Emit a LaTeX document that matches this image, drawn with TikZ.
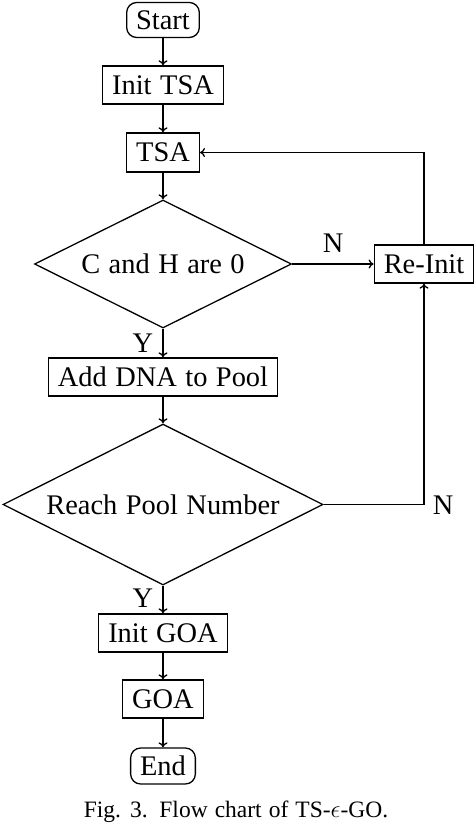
\documentclass[tikz,border=0pt]{standalone}
\usepackage{fontspec}
\setmainfont[WordSpace=1.2]{Liberation Serif}
\usetikzlibrary{shapes.geometric,arrows.meta}
\begin{document}
\begin{tikzpicture}[x=1pt,y=-1pt,
  line width=1.3pt,
  >={To[length=5pt,width=9pt]},
  every node/.style={font=\fontsize{28.4}{34}\selectfont},
  procbox/.style={draw, rectangle, inner xsep=9.5pt, inner ysep=0pt, minimum height=38pt},
  termbox/.style={draw, rectangle, rounded corners=10pt, inner xsep=9.5pt, inner ysep=0pt, minimum height=35pt},
  decbox/.style={draw, diamond, aspect=2, inner sep=0pt},
  lbl/.style={inner sep=0pt}]
\useasboundingbox (0,0) rectangle (474,840);
\node[termbox] (start) at (163,20) {Start};
\node[procbox] (inittsa) at (163,85) {Init TSA};
\node[procbox, minimum height=39pt] (tsa) at (163,152.5) {TSA};
\node[decbox, minimum width=257pt, minimum height=128pt] (d1) at (163,264) {C and H are 0};
\node[procbox] (reinit) at (424,264) {Re-Init};
\node[procbox] (adddna) at (163,377) {Add DNA to Pool};
\node[decbox, minimum width=320pt, minimum height=161pt] (d2) at (163,504.5) {Reach Pool Number};
\node[procbox] (initgoa) at (163,633) {Init GOA};
\node[procbox] (goa) at (163,699) {GOA};
\node[termbox, minimum height=36pt] (end) at (163,766) {End};
\coordinate (c1) at (424,504.5);
\draw[->] (start) -- (inittsa);
\draw[->] (inittsa) -- (tsa);
\draw[->] (tsa) -- (d1);
\draw[->] (d1) -- (adddna);
\draw[->] (adddna) -- (d2);
\draw[->] (d2) -- (initgoa);
\draw[->] (initgoa) -- (goa);
\draw[->] (goa) -- (end);
\draw[->] (d1.east) -- (reinit.west);
\draw[->] (reinit.north) |- (tsa.east);
\draw[->] (d2.east) -- (c1) -- (reinit.south);
\node[lbl] (n1) at (333,243) {N};
\node[lbl] (y1) at (143,343) {Y};
\node[lbl] (n2) at (443,505) {N};
\node[lbl] (y2) at (143,598) {Y};
\node[lbl, font=\fontsize{23.5}{28}\selectfont] (cap) at (236,812) {Fig. 3.\enspace Flow chart of TS-$\epsilon$-GO.};
\end{tikzpicture}
\end{document}
